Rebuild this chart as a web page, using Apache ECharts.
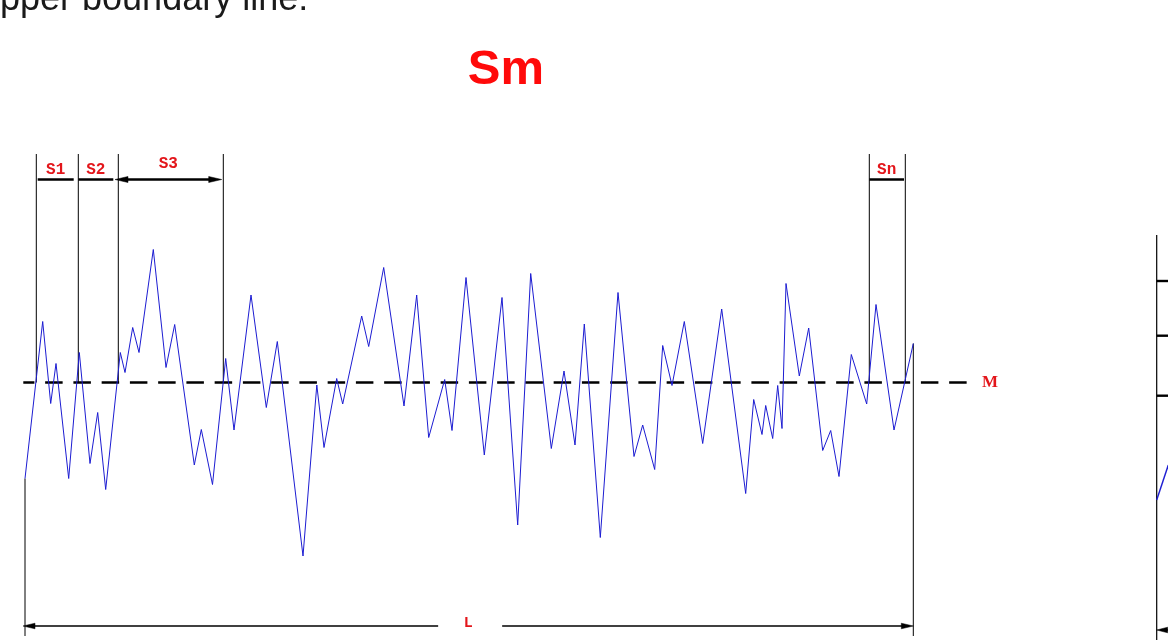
<!DOCTYPE html>
<html>
<head>
<meta charset="utf-8">
<script src="https://cdn.jsdelivr.net/npm/echarts@6/dist/echarts.min.js"></script>
<style>html,body{margin:0;padding:0;background:#fff}#chart{width:1168px;height:640px}</style>
</head>
<body>
<div id="chart"></div>
<script>
// Roughness profile: distance along the sampling length (x) and height above the mean line M (y)
const profileX = [0, 17.7, 25.7, 31, 43.7, 54.3, 65, 72.7, 80.7, 95.3, 100, 107.7, 114, 128.3, 141, 149.7, 169.3, 176.3, 187.5,
  200.7, 209, 226, 241.3, 252.3, 278, 291.8, 299, 311.7, 317.7, 336.7, 343.7, 358.7, 379, 391.7, 403.7, 419.7, 427, 441,
  459.3, 477, 492.7, 505.7, 526.3, 539, 550, 559.3, 575.3, 593, 609, 617.7, 629.7, 637.7, 647, 659.3, 677.7, 696.7, 720.7,
  728.7, 737, 740.7, 747.7, 752.7, 757, 761, 774.3, 783.7, 797.7, 805.7, 814, 826.3, 841.7, 851, 869, 888.3];
const profileY = [-96, 61, -21, 19, -96, 30, -81, -30, -107, 30, 10, 55, 30, 133, 15, 58, -82.5, -47, -102,
  24, -47.5, 87.5, -25, 41, -173.5, -2.5, -65, 4, -21.5, 66.5, 36, 115, -23.5, 87.5, -55, 3, -48, 105,
  -72.5, 85, -142.5, 109, -66, 11.5, -62.5, 58.5, -155, 90, -74, -42.5, -87, 37, -3, 61, -61, 73.5, -111,
  -17, -52, -23, -56, -3, -46, 99, 6.5, 54.5, -68, -48, -94, 28, -21.5, 78, -47.5, 39];

// Mean line M
const meanLineX = [-1.7, 944];
const meanLabel = 'M';
const meanLabelX = 965;

// Profile element boundaries (crossings of M) and spacing dimensions
const boundaryX = [11.3, 53.3, 93.3, 198.3, 844.3, 880.3];
const boundaryTop = 228.5;
const spacingLabels = ['S1', 'S2', 'S3', 'Sn'];
const spacingFrom = [12.7, 53.3, 90, 844.3];
const spacingTo = [48.7, 88.3, 196.7, 879];
const spacingArrows = [false, false, true, false];
const spacingLevel = 203;

// Sampling length L
const lengthLabel = 'L';
const lengthLevel = -243.5;
const lengthBottom = -253.5;

// Next figure, cut off at the right edge
const nextAxisX = 1131.7;
const nextAxisTop = 147.5;
const nextTicksY = [101.5, 46.8, -13.2];
const nextTickEnd = 1143.5;
const nextProfileX = [1131.7, 1143.3];
const nextProfileY = [-117.5, -82.5];
const nextArrowY = -247.5;

const titleText = 'Sm';
const captionText = 'pper boundary line:';

const RED = '#e3161b';
const BLUE = '#1c1cd2';
const LABEL_FONT = 'bold 16px "Liberation Mono", "DejaVu Sans Mono", monospace';

function pairs(xs, ys) { return xs.map((x, i) => [x, ys[i]]); }
function arrowHead(tip, dir, len, half) {
  // dir: +1 pointing right, -1 pointing left
  return { type: 'polygon', shape: { points: [[tip[0], tip[1]], [tip[0] - dir * len, tip[1] - half], [tip[0] - dir * len, tip[1] + half]] },
    style: { fill: '#000', stroke: '#000', lineWidth: 0.5 } };
}
function seg(a, b, w, color) {
  return { type: 'line', shape: { x1: a[0], y1: a[1], x2: b[0], y2: b[1] }, style: { stroke: color || '#000', lineWidth: w } };
}

const chart = echarts.init(document.getElementById('chart'), null, { renderer: 'canvas' });
chart.setOption({
  animation: false,
  backgroundColor: '#fff',
  grid: { left: 0, right: 0, top: 0, bottom: 0 },
  xAxis: { type: 'value', min: -25, max: 1143, show: false },
  yAxis: { type: 'value', min: -257.5, max: 382.5, show: false },
  graphic: [
    { type: 'text', x: 506, y: 70.7, style: { text: titleText, fill: '#ff0a0a', font: 'bold 49px "Liberation Sans", Arial, sans-serif', align: 'center', verticalAlign: 'middle', textAlign: 'center', textVerticalAlign: 'middle' } },
    { type: 'text', x: 0, y: 0.5, style: { text: captionText, fill: '#1a1a1a', font: '36px "Liberation Sans", Arial, sans-serif', align: 'left', verticalAlign: 'middle', textAlign: 'left', textVerticalAlign: 'middle' } }
  ],
  series: [
    {
      name: 'profile', type: 'line', data: pairs(profileX, profileY), showSymbol: false, symbol: 'none', silent: true,
      lineStyle: { color: BLUE, width: 1 }, z: 3
    },
    {
      name: 'mean line', type: 'line', data: meanLineX.map(x => [x, 0]), showSymbol: false, symbol: 'none', silent: true,
      lineStyle: { color: '#000', width: 2.3, type: [17.5, 10.75], dashOffset: 6.4 }, z: 2
    },
    {
      name: 'M label', type: 'custom', silent: true, data: [[meanLabelX, 0]],
      renderItem: (p, api) => {
        const c = api.coord([api.value(0), api.value(1)]);
        return { type: 'text', x: c[0], y: c[1], style: { text: meanLabel, fill: RED, font: 'bold 17px "Liberation Serif", "DejaVu Serif", serif', align: 'center', verticalAlign: 'middle' } };
      }
    },
    {
      name: 'boundaries', type: 'custom', silent: true, data: boundaryX.map(x => [x, 0]),
      renderItem: (p, api) => {
        const a = api.coord([api.value(0), 0]);
        const b = api.coord([api.value(0), boundaryTop]);
        return seg(a, b, 1);
      }
    },
    {
      name: 'spacings', type: 'custom', silent: true, data: spacingFrom.map((f, i) => [f, spacingLevel, spacingTo[i], i]),
      renderItem: (p, api) => {
        const i = api.value(3);
        const a = api.coord([api.value(0), api.value(1)]);
        const b = api.coord([api.value(2), api.value(1)]);
        const children = [];
        if (spacingArrows[i]) {
          children.push(seg([a[0] + 10, a[1]], [b[0] - 10, b[1]], 2.5));
          children.push(arrowHead(a, -1, 13, 3));
          children.push(arrowHead(b, 1, 13, 3));
        } else {
          children.push(seg(a, b, 2.5));
        }
        children.push({ type: 'text', x: (a[0] + b[0]) / 2, y: a[1] - (spacingArrows[i] ? 15.5 : 10),
          style: { text: spacingLabels[i], fill: RED, font: LABEL_FONT, align: 'center', verticalAlign: 'middle' } });
        return { type: 'group', children };
      }
    },
    {
      name: 'length L', type: 'custom', silent: true, data: [[profileX[0], profileY[0], profileX[profileX.length - 1], profileY[profileY.length - 1]]],
      renderItem: (p, api) => {
        const x0 = api.value(0), y0 = api.value(1), x1 = api.value(2), y1 = api.value(3);
        const s0 = api.coord([x0, y0]), b0 = api.coord([x0, lengthBottom]);
        const s1 = api.coord([x1, y1]), b1 = api.coord([x1, lengthBottom]);
        const l = api.coord([x0 - 2, lengthLevel]), r = api.coord([x1, lengthLevel]);
        const mid = api.coord([(x0 + x1) / 2, lengthLevel]);
        return { type: 'group', children: [
          seg(s0, b0, 1), seg(s1, b1, 1),
          seg([l[0] + 8, l[1]], [mid[0] - 31, mid[1]], 1.4),
          seg([mid[0] + 33, mid[1]], [r[0] - 8, r[1]], 1.4),
          arrowHead(l, -1, 12, 2.8), arrowHead(r, 1, 12, 2.8),
          { type: 'text', x: mid[0] - 1, y: mid[1] - 3, style: { text: lengthLabel, fill: RED, font: 'bold 15px "Liberation Mono", "DejaVu Sans Mono", monospace', align: 'center', verticalAlign: 'middle' } }
        ] };
      }
    },
    {
      name: 'next axis', type: 'custom', silent: true, data: [[nextAxisX, nextAxisTop]],
      renderItem: (p, api) => {
        const top = api.coord([api.value(0), api.value(1)]);
        const bot = api.coord([api.value(0), -257.5]);
        const children = [seg(top, bot, 1.2)];
        nextTicksY.forEach(t => {
          children.push(seg(api.coord([api.value(0), t]), api.coord([nextTickEnd, t]), 2.4));
        });
        const ar = api.coord([api.value(0), nextArrowY]);
        children.push(seg([ar[0] + 8, ar[1]], api.coord([nextTickEnd, nextArrowY]), 1.4));
        children.push(arrowHead(ar, -1, 11, 2.8));
        return { type: 'group', children };
      }
    },
    {
      name: 'next profile', type: 'line', data: pairs(nextProfileX, nextProfileY), showSymbol: false, symbol: 'none', silent: true,
      lineStyle: { color: BLUE, width: 1.4 }
    }
  ]
});
</script>
</body>
</html>
